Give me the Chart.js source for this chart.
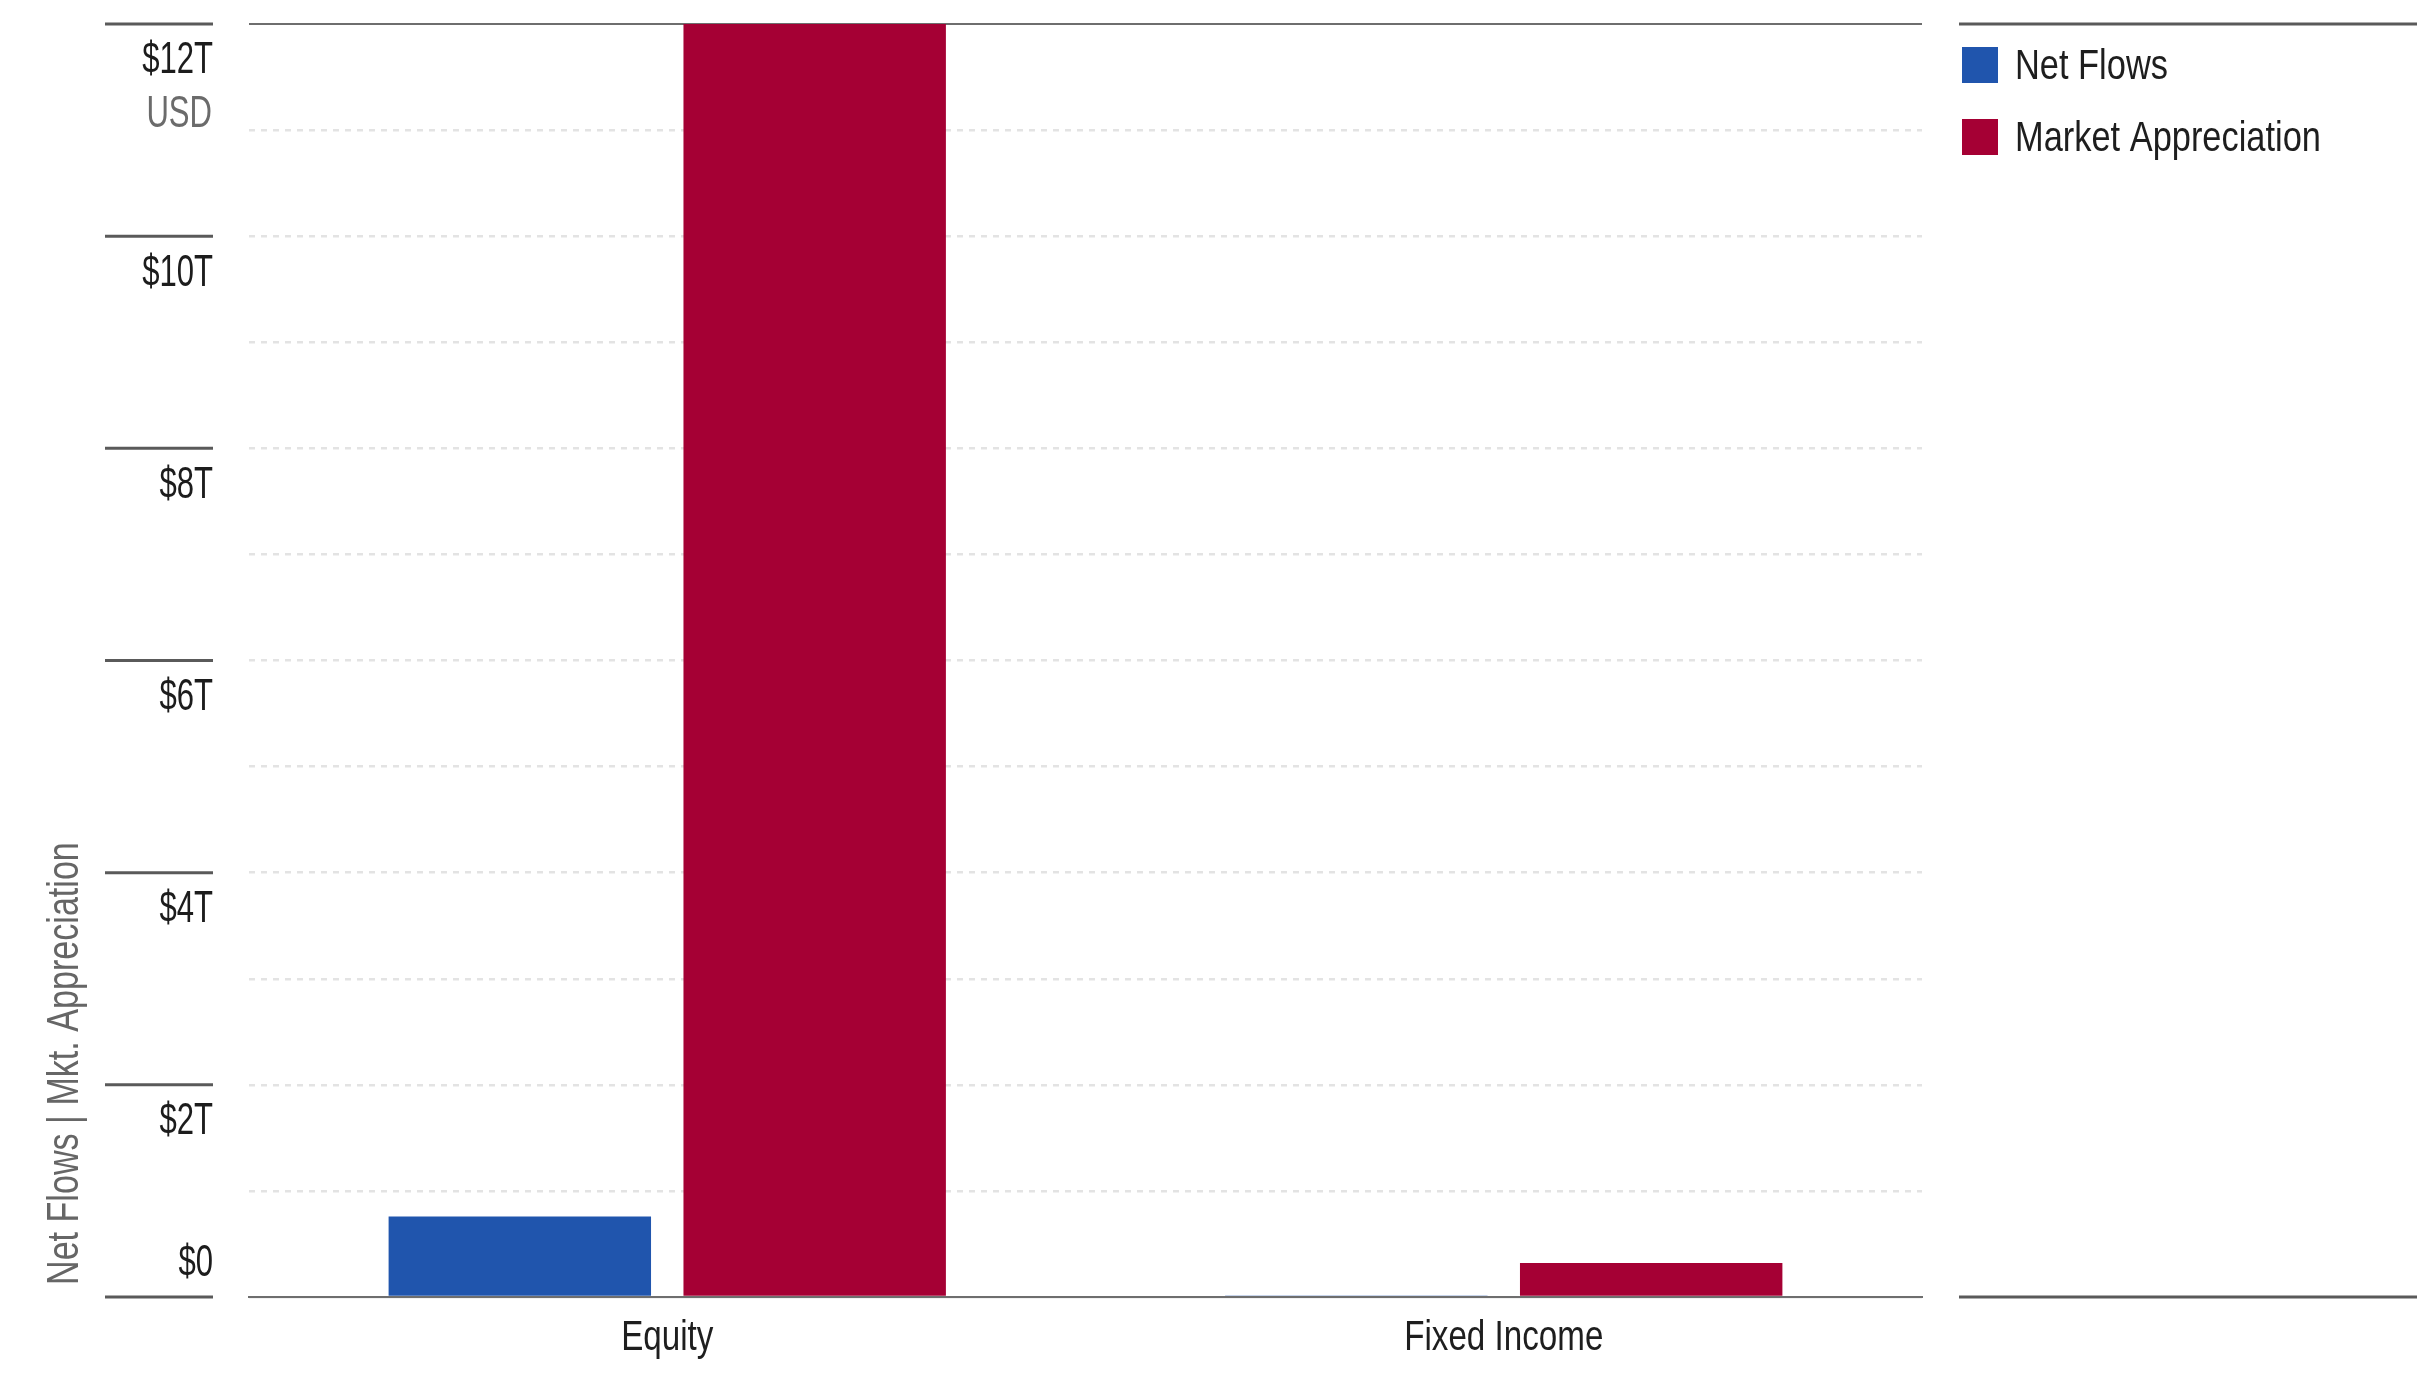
<!DOCTYPE html>
<html>
<head>
<meta charset="utf-8">
<script src="https://cdn.jsdelivr.net/npm/chart.js@4.4.0/dist/chart.umd.min.js"></script>
<style>
  html, body { margin: 0; padding: 0; background: #fff; }
  canvas { display: block; }
</style>
</head>
<body>
<canvas id="flowChart" width="2417" height="1400"></canvas>
<script>
const categories = ['Equity', 'Fixed Income'];
const netFlows = [0.76, 0.01];
const marketAppreciation = [12.0, 0.32];
const seriesNames = ['Net Flows', 'Market Appreciation'];
const seriesColors = ['#2055ad', '#a50034'];
const yTicks = [0, 2, 4, 6, 8, 10, 12];
const yTickLabels = ['$0', '$2T', '$4T', '$6T', '$8T', '$10T', '$12T'];
const yUnit = 'USD';
const yTitle = 'Net Flows | Mkt. Appreciation';

const FONT = "'Liberation Sans', Arial, sans-serif";

// no condensed face installed, so squeeze a regular one horizontally
function narrowText(ctx, text, x, y, size, color, align, sx, rot) {
  ctx.save();
  ctx.translate(x, y);
  if (rot) ctx.rotate(rot);
  ctx.scale(sx, 1);
  ctx.font = size + 'px ' + FONT;
  ctx.fillStyle = color;
  ctx.textAlign = align;
  ctx.textBaseline = 'middle';
  ctx.fillText(text, 0, 0);
  ctx.restore();
}

const sideDecor = {
  id: 'sideDecor',
  afterDraw(chart) {
    const ctx = chart.ctx;
    const yScale = chart.scales.y;
    const xScale = chart.scales.x;
    const area = chart.chartArea;
    ctx.save();

    yTicks.forEach((v, i) => {
      const py = yScale.getPixelForValue(v);
      ctx.strokeStyle = '#5a5a5a';
      ctx.lineWidth = 3;
      ctx.beginPath();
      ctx.moveTo(105, py);
      ctx.lineTo(213, py);
      ctx.stroke();
      narrowText(ctx, yTickLabels[i], 213, v === 0 ? py - 33 : py + 37, 45, '#1c1c1c', 'right', 0.69);
    });
    narrowText(ctx, yUnit, 212, yScale.getPixelForValue(12) + 91, 45, '#6b6b6b', 'right', 0.69);

    narrowText(ctx, yTitle, 66, area.bottom - 12, 44, '#666666', 'left', 0.775, -Math.PI / 2);

    categories.forEach((c, i) => {
      narrowText(ctx, c, xScale.getPixelForValue(i), area.bottom + 41, 42, '#1e1e1e', 'center', 0.79);
    });

    // legend
    const lx = 1959;
    ctx.strokeStyle = '#5a5a5a';
    ctx.lineWidth = 3;
    ctx.beginPath();
    ctx.moveTo(lx, area.top);
    ctx.lineTo(chart.width, area.top);
    ctx.moveTo(lx, area.bottom);
    ctx.lineTo(chart.width, area.bottom);
    ctx.stroke();

    chart.data.datasets.forEach((ds, i) => {
      const cy = 65 + i * 72;
      ctx.fillStyle = ds.backgroundColor;
      ctx.fillRect(1962, cy - 18, 36, 36);
      narrowText(ctx, ds.label, 2015, cy + 2, 43, '#1e1e1e', 'left', 0.8);
    });
    ctx.restore();
  }
};

const ctx = document.getElementById('flowChart').getContext('2d');
const flowChart = new Chart(ctx, {
  type: 'bar',
  data: {
    labels: categories,
    datasets: [
      { label: seriesNames[0], data: netFlows, backgroundColor: seriesColors[0], borderWidth: 0 },
      { label: seriesNames[1], data: marketAppreciation, backgroundColor: seriesColors[1], borderWidth: 0 }
    ]
  },
  options: {
    responsive: false,
    animation: false,
    layout: { padding: { left: 0, right: 495, top: 24, bottom: 0 } },
    datasets: {
      bar: { categoryPercentage: 0.705, barPercentage: 0.89 }
    },
    scales: {
      x: {
        grid: { display: false, drawTicks: false },
        border: { display: true, color: '#6e6e6e', width: 2 },
        ticks: { display: false },
        afterFit(scale) { scale.height = 103; }
      },
      y: {
        min: 0,
        max: 12,
        ticks: { display: false, stepSize: 1 },
        grid: {
          drawTicks: false,
          color: c => (c.tick && c.tick.value === 12) ? '#6e6e6e' : '#e3e3e3',
          lineWidth: c => (c.tick && c.tick.value === 12) ? 2 : 2.5
        },
        border: {
          display: false,
          dash: c => (c.tick && (c.tick.value === 12 || c.tick.value === 0)) ? [] : [6, 6]
        },
        afterFit(scale) { scale.width = 249; }
      }
    },
    plugins: {
      legend: { display: false },
      tooltip: { enabled: false }
    }
  },
  plugins: [sideDecor]
});
</script>
</body>
</html>
